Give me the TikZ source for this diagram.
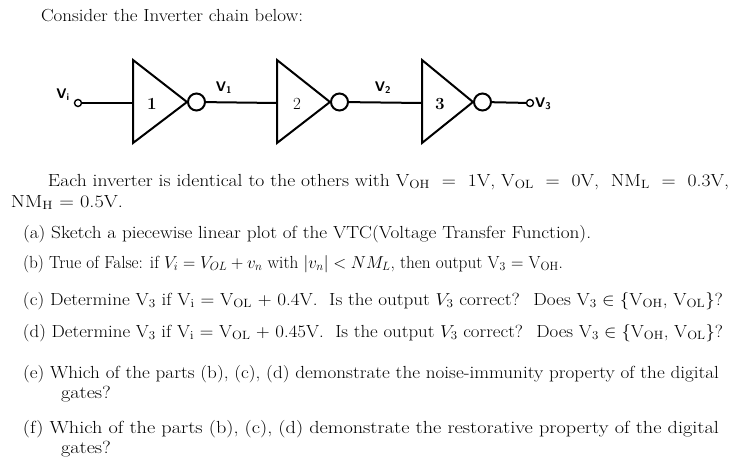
\documentclass[tikz,border=0pt]{standalone}
\usepackage{graphicx}
\newcommand{\txtline}[4]{\node[anchor=base west,inner sep=0pt] at (#1,#2) {\resizebox{#3pt}{\height}{\fontsize{17.5}{20}\selectfont #4}};}
\begin{document}
\begin{tikzpicture}[x=1pt,y=-1pt,line width=2pt,
  term/.style={circle,draw,line width=1.4pt,inner sep=0pt,minimum size=7pt,fill=white},
  bub/.style={circle,draw,line width=2pt,inner sep=0pt,minimum size=17pt},
  lab/.style={font=\fontsize{14}{16}\selectfont\bfseries\sffamily,inner sep=0pt}]
\useasboundingbox (0,0) rectangle (737,463);
% inverter chain
\foreach \i/\l/\t in {1/133/187,2/277/330,3/422/473}{
  \draw[line join=miter] (\l,60) coordinate (g\i a) -- (\t,102) coordinate (g\i t) -- (\l,143) -- cycle;
  \node[bub,anchor=west] (b\i) at (\t,102) {};
}
\node at (152,104) {\fontsize{17}{19}\selectfont\bfseries 1};
\node at (297,104) {\fontsize{17}{19}\selectfont 2};
\node at (440,104) {\fontsize{17}{19}\selectfont\bfseries 3};
\node[term] (vi) at (78,103) {};
\node[term] (vo) at (530,103) {};
\coordinate (in1) at (133,103);
\coordinate (in2) at (277,103);
\coordinate (in3) at (422,103);
\draw (vi) -- (in1);
\draw (b1) -- (in2);
\draw (b2) -- (in3);
\draw (b3) -- (vo);
\node[lab] (lvi) at (63,95) {V\textsubscript{i}};
\node[lab] (lv1) at (224,88) {V\textsubscript{1}};
\node[lab] (lv2) at (383,88) {V\textsubscript{2}};
\node[lab,anchor=west] (lv3) at (534,104) {V\textsubscript{3}};
% text
\txtline{40}{21}{262}{Consider the Inverter chain below:}
\txtline{47}{186}{681}{Each inverter is identical to the others with V$_{\rm OH}$ \ = \ 1V, V$_{\rm OL}$ \ = \ 0V, \ NM$_{\rm L}$ \ = \ 0.3V,}
\txtline{10}{207}{112}{NM$_{\rm H}$ = 0.5V.}
\txtline{22}{238}{568}{(a) Sketch a piecewise linear plot of the VTC(Voltage Transfer Function).}
\txtline{22}{268}{540}{(b) True of False: if $V_i = V_{OL} + v_n$ with $|v_n| < NM_L$, then output V$_3$ = V$_{\rm OH}$.}
\txtline{22}{305}{700}{(c) Determine V$_3$ if V$_{\rm i}$ = V$_{\rm OL}$ + 0.4V. \ Is the output $V_3$ correct? \ Does V$_3 \in \{$V$_{\rm OH}$, V$_{\rm OL}\}$?}
\txtline{22}{337}{700}{(d) Determine V$_3$ if V$_{\rm i}$ = V$_{\rm OL}$ + 0.45V. \ Is the output $V_3$ correct? \ Does V$_3 \in \{$V$_{\rm OH}$, V$_{\rm OL}\}$?}
\txtline{22}{378}{696}{(e) Which of the parts (b), (c), (d) demonstrate the noise-immunity property of the digital}
\txtline{60}{398}{50}{gates?}
\txtline{22}{433}{696}{(f) Which of the parts (b), (c), (d) demonstrate the restorative property of the digital}
\txtline{60}{453}{50}{gates?}
\end{tikzpicture}
\end{document}
